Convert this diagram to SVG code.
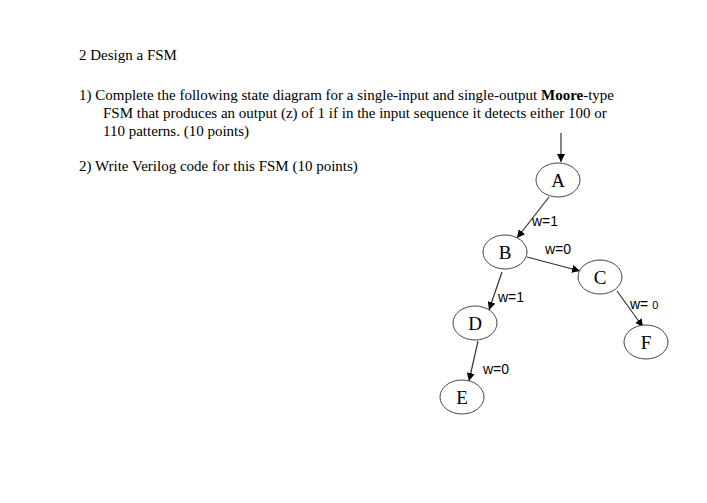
<svg xmlns="http://www.w3.org/2000/svg" width="707" height="503" viewBox="0 0 707 503">
<style>
.t{font-family:"Liberation Serif",serif;font-size:15px;fill:#000}
.n ellipse{fill:#fff;stroke:#444;stroke-width:1}
.n text{font-family:"Liberation Serif",serif;font-size:19px;text-anchor:middle;fill:#000}
.e line{stroke:#333;stroke-width:1.2;marker-end:url(#a)}
.l{font-family:"Liberation Sans",sans-serif;font-size:14px;fill:#000}
</style>
<defs><marker id="a" viewBox="0 0 10 10" refX="10" refY="5" markerWidth="8" markerHeight="8" orient="auto" markerUnits="userSpaceOnUse"><path d="M0,0L10,5L0,10z" fill="#000"/></marker></defs>
<rect width="707" height="503" fill="#fff"/>
<text class="t" x="79" y="60">2 Design a FSM</text>
<text class="t" x="79" y="100">1) Complete the following state diagram for a single-input and single-output <tspan font-weight="bold">Moore</tspan>-type</text>
<text class="t" x="103" y="118">FSM that produces an output (z) of 1 if in the input sequence it detects either 100 or</text>
<text class="t" x="103" y="136">110 patterns. (10 points)</text>
<text class="t" x="79" y="171">2) Write Verilog code for this FSM (10 points)</text>
<g class="e">
<line x1="561" y1="133" x2="561" y2="162"/>
<line x1="549" y1="197" x2="517" y2="238"/>
<line x1="527" y1="257" x2="580" y2="271"/>
<line x1="502" y1="272" x2="489" y2="310"/>
<line x1="617" y1="291" x2="643" y2="327"/>
<line x1="478" y1="341" x2="469" y2="381"/>
</g>
<text class="l" x="532" y="226">w=1</text>
<text class="l" x="545" y="254">w=0</text>
<text class="l" x="498" y="302">w=1</text>
<text class="l" x="630" y="309">w=  <tspan font-size="11">0</tspan></text>
<text class="l" x="483" y="374">w=0</text>
<g class="n" id="A"><ellipse cx="558" cy="180" rx="22" ry="17"/><text x="558" y="187">A</text></g>
<g class="n" id="B"><ellipse cx="505" cy="252" rx="22" ry="17"/><text x="505" y="259">B</text></g>
<g class="n" id="C"><ellipse cx="600" cy="277" rx="22" ry="17"/><text x="600" y="284">C</text></g>
<g class="n" id="D"><ellipse cx="475" cy="323" rx="22" ry="17"/><text x="475" y="330">D</text></g>
<g class="n" id="E"><ellipse cx="462" cy="397" rx="22" ry="17"/><text x="462" y="404">E</text></g>
<g class="n" id="F"><ellipse cx="646" cy="342" rx="22" ry="17"/><text x="646" y="349">F</text></g>
</svg>
